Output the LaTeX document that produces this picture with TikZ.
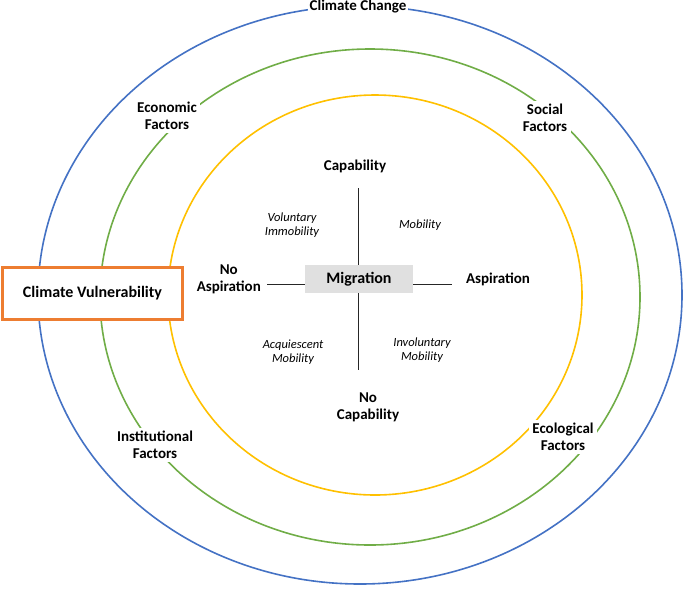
\documentclass[tikz,border=0pt]{standalone}
\usepackage{fontspec}
\setmainfont{Carlito}
\begin{document}
\begin{tikzpicture}[x=1pt,y=-1pt,
  lab/.style={font=\bfseries\fontsize{15}{17}\selectfont,align=center},
  ital/.style={font=\itshape\fontsize{12.5}{14}\selectfont,align=center},
  ax/.style={line width=0.8pt,black!85}]
\useasboundingbox (0,0) rectangle (685,590);
\draw[color={rgb,255:red,68;green,114;blue,196},line width=1.6pt] (360,295) ellipse [x radius=322pt,y radius=289pt];
\draw[color={rgb,255:red,112;green,173;blue,71},line width=1.6pt] (370,297) ellipse [x radius=270pt,y radius=248pt];
\draw[color={rgb,255:red,255;green,192;blue,0},line width=1.6pt] (375,295) ellipse [x radius=207pt,y radius=200pt];
\node[lab,fill=white,inner sep=2pt] (cc) at (358,7) {Climate Change};
\node[lab,fill=white] (ef) at (167,116) {Economic\\Factors};
\node[lab,fill=white] (sf) at (545,118) {Social\\Factors};
\node[lab,fill=white] (if) at (155,445) {Institutional\\Factors};
\node[lab,fill=white] (eco) at (563,437) {Ecological\\Factors};
\node[draw={rgb,255:red,237;green,125;blue,49},line width=2.5pt,fill=white,minimum width=180pt,minimum height=52pt,font=\bfseries\fontsize{16}{18}\selectfont] (cv) at (92.5,293.5) {Climate Vulnerability};
\node[fill=black!12,minimum width=108pt,minimum height=28pt,font=\bfseries\fontsize{16}{18}\selectfont] (mig) at (359,279) {Migration};
\node[lab] (cap) at (355,166) {Capability};
\node[lab] (ncap) at (368,407) {No\\Capability};
\node[lab,anchor=east,inner sep=1pt] (nasp) at (262,279) {No\\Aspiration};
\node[lab] (asp) at (498,279) {Aspiration};
\coordinate (t) at (358,188); \coordinate (b) at (358,370);
\coordinate (l) at (267,284); \coordinate (r) at (452,284);
\draw[ax] (t) -- (mig.north -| t);
\draw[ax] (mig.south -| b) -- (b);
\draw[ax] (l) -- (mig.west |- l);
\draw[ax] (mig.east |- r) -- (r);
\node[ital] (vi) at (292,225) {Voluntary\\Immobility};
\node[ital] (mo) at (420,225) {Mobility};
\node[ital] (am) at (293,352) {Acquiescent\\Mobility};
\node[ital] (im) at (422,350) {Involuntary\\Mobility};
\end{tikzpicture}
\end{document}
